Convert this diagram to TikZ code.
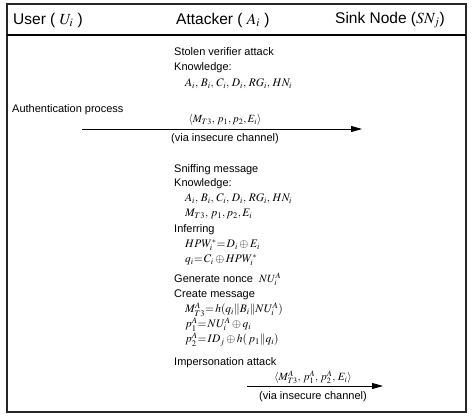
\documentclass[tikz,border=0pt]{standalone}
\usepackage{mathptmx}
\usepackage[no-math]{fontspec}
\setmainfont{Liberation Sans}
\usetikzlibrary{arrows.meta}
\tikzset{
  hdr/.style={anchor=west,inner sep=0pt,font=\fontsize{15.5}{18}\selectfont},
  txt/.style={anchor=west,inner sep=0pt,text height=8pt,text depth=2pt,font=\fontsize{11}{13}\selectfont},
  mth/.style={anchor=west,inner sep=0pt,text height=8pt,text depth=2.5pt,font=\fontsize{11.5}{13}\selectfont},
  msg/.style={inner sep=0pt,text height=8pt,text depth=2.5pt,font=\fontsize{11}{13}\selectfont},
  flow/.style={line width=0.8pt,-{Triangle[length=11pt,width=6pt]}}
}
\begin{document}
\begin{tikzpicture}[x=1pt,y=-1pt]
\useasboundingbox (0,0) rectangle (474,417);
\draw[line width=1.1pt,black!85] (7,4) rectangle (466,412);
\draw[line width=1.3pt] (7,35) -- (466,35);
\node[hdr] (hu) at (13,20) {User ( $U_i$ )};
\node[hdr] (ha) at (176,20) {Attacker ( $A_i$ )};
\node[hdr] (hs) at (335,20) {Sink Node ($SN_j$)};
\node[txt] (t1) at (174,53) {Stolen verifier attack};
\node[txt] (t2) at (174,68) {Knowledge:};
\node[mth] (m1) at (185,84) {$A_i,\,B_i,\,C_i,\,D_i,\,RG_i,\,HN_i$};
\node[txt] (t3) at (12,110) {Authentication process};
\coordinate (a1s) at (82,129);
\coordinate (a1e) at (362,129);
\draw[flow] (a1s) -- (a1e);
\node[msg] (g1) at (225,120) {$\langle M_{T3},\, p_1, p_2, E_i\rangle$};
\node[msg] (v1) at (225,139) {(via insecure channel)};
\node[txt] (t4) at (174,169) {Sniffing message};
\node[txt] (t5) at (174,183) {Knowledge:};
\node[mth] (m2) at (185,199) {$A_i,\,B_i,\,C_i,\,D_i,\,RG_i,\,HN_i$};
\node[mth] (m3) at (185,214) {$M_{T3},\, p_1, p_2, E_i$};
\node[txt] (t6) at (174,229) {Inferring};
\node[mth] (m4) at (185,245) {$HPW_i^{*}{=}\,D_i\oplus E_i$};
\node[mth] (m5) at (185,260) {$q_i{=}\,C_i\oplus HPW_i^{*}$};
\node[txt] (t7) at (174,279) {Generate nonce \ $NU_i^{A}$};
\node[txt] (t8) at (174,294) {Create message};
\node[mth] (m6) at (185,310) {$M_{T3}^{A}{=}\,h(q_i\|B_i\|NU_i^{A})$};
\node[mth] (m7) at (185,325) {$p_1^{A}{=}\,NU_i^{A}\oplus q_i$};
\node[mth] (m8) at (185,340) {$p_2^{A}{=}\,ID_j\oplus h(\,p_1\|q_i)$};
\node[txt] (t9) at (174,362) {Impersonation attack};
\coordinate (a2s) at (247,386);
\coordinate (a2e) at (383,386);
\draw[flow] (a2s) -- (a2e);
\node[msg] (g2) at (313,378) {$\langle M_{T3}^{A},\, p_1^{A},\, p_2^{A},\, E_i\rangle$};
\node[msg] (v2) at (313,397) {(via insecure channel)};
\end{tikzpicture}
\end{document}
